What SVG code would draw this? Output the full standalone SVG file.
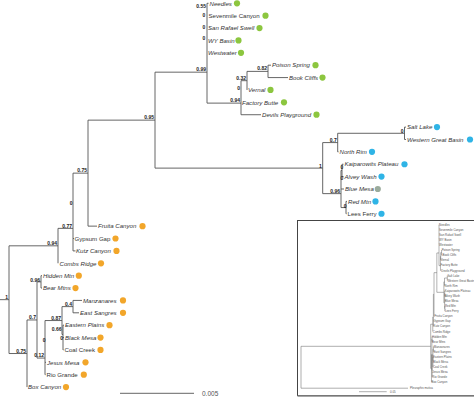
<svg xmlns="http://www.w3.org/2000/svg" xmlns:xlink="http://www.w3.org/1999/xlink" width="474" height="398" viewBox="0 0 474 398">
<style>
.lab{font-family:"Liberation Sans",Arial,sans-serif;font-size:6.1px;font-style:italic;fill:#333}
.up{font-style:normal}
.sup{font-family:"Liberation Sans",Arial,sans-serif;font-size:5px;font-weight:bold;fill:#222;text-anchor:end}
.tiny{font-family:"Liberation Sans",Arial,sans-serif;font-size:2.9px;fill:#555}
.g{fill:#8cc63f}.b{fill:#2fb4e6}.o{fill:#f2a62a}.m{fill:#9aab9c}
.ln{fill:none;stroke:#555;stroke-width:0.9}
.sc{font-family:"Liberation Sans",Arial,sans-serif;font-size:6.5px;fill:#555}
</style>
<defs>
<path id="tree" d="M0 299.67H9M9 245.82V353.52M9 245.82H58M58 228.37V263.28M58 228.37H73M73 173.14V250.9M73 238.52H74M73 250.9H75.5M73 173.14H88M88 120.14V226.14M88 226.14H97M88 120.14H155M155 72.16V168.11M155 72.16H207M207 3.3V103.11M207 3.3H208.5M207 103.11H241M241 80.68V114.72M241 114.72H261M241 80.68H247M247 71.39V89.96M247 71.39H268M268 65.2V77.58M268 65.2H271M268 77.58H288M155 168.11H322.7M322.7 142.58V193.64M322.7 142.58H337.7M337.7 133.29V151.86M337.7 151.86H338.5M337.7 133.29H404.5M404.5 127.1V139.48M404.5 127.1H406M404.5 139.48H406M322.7 193.64H341M341 170.43V207.57M341 170.43H342M342 164.24V176.62M342 164.24H343.5M342 176.62H343.5M341 189H344M341 207.57H346M346 201.38V213.76M346 201.38H347M346 213.76H346.5M9 353.52H27M27 319.96V387.08M27 319.96H37M37 281.85V358.07M37 281.85H41M41 275.66V288.04M41 275.66H42M41 288.04H42M37 358.07H45M45 320.54V374.7M45 362.32H46M45 374.7H45.5M45 320.54H62M62 306.61V334.47M62 306.61H73M73 300.42V312.8M73 300.42H82M73 312.8H79M62 334.47H63M63 325.18V349.94M63 325.18H64M63 337.56H64M63 349.94H63.5" vector-effect="non-scaling-stroke"/>
</defs>

<g id="connectors">
<use xlink:href="#tree" href="#tree" class="ln"/>
<line x1="120" y1="393.3" x2="194" y2="393.3" stroke="#666" stroke-width="1"/>
</g>

<g id="supports">
<text class="sup" x="8" y="299.2">1</text>
<text class="sup" x="57" y="245">0.94</text>
<text class="sup" x="72" y="227.5">0.77</text>
<text class="sup" x="72.5" y="205">0</text>
<text class="sup" x="87" y="172.3">0.75</text>
<text class="sup" x="154" y="119.3">0.95</text>
<text class="sup" x="206" y="71.3">0.99</text>
<text class="sup" x="206" y="8">0.55</text>
<text class="sup" x="205.3" y="17">0</text>
<text class="sup" x="205.3" y="29">0</text>
<text class="sup" x="205.3" y="40">0</text>
<text class="sup" x="240" y="102.3">0.94</text>
<text class="sup" x="240" y="90">0</text>
<text class="sup" x="246" y="79.6">0.32</text>
<text class="sup" x="267" y="70.3">0.82</text>
<text class="sup" x="321.7" y="167.5">1</text>
<text class="sup" x="336.7" y="141.8">0.7</text>
<text class="sup" x="403.5" y="132.6">0</text>
<text class="sup" x="340" y="192.8">0.96</text>
<text class="sup" x="343.2" y="169">0</text>
<text class="sup" x="343.2" y="180">0</text>
<text class="sup" x="346.5" y="207.5">0</text>
<text class="sup" x="26" y="352.8">0.75</text>
<text class="sup" x="36" y="319.2">0.7</text>
<text class="sup" x="40" y="281.8">0.96</text>
<text class="sup" x="44" y="357.3">0.12</text>
<text class="sup" x="45.5" y="341.8">0</text>
<text class="sup" x="61" y="320">0.87</text>
<text class="sup" x="72" y="305.8">0.4</text>
<text class="sup" x="61.5" y="330.8">0.66</text>
<text class="sup" x="63" y="340">0</text>
</g>

<g id="n-needles"><text class="lab" x="209.5" y="5.5">Needles</text><circle class="g" cx="237" cy="3.3" r="3.1"/></g>
<g id="n-sevenmile"><text class="lab up" x="208.5" y="17.9">Sevenmile Canyon</text><circle class="g" cx="265.5" cy="15.68" r="3.1"/></g>
<g id="n-sanrafael"><text class="lab" x="208" y="30.3">San Rafael Swell</text><circle class="g" cx="259.5" cy="28.06" r="3.1"/></g>
<g id="n-wybasin"><text class="lab" x="208" y="42.6">WY Basin</text><circle class="g" cx="238.5" cy="40.44" r="3.1"/></g>
<g id="n-westwater"><text class="lab" x="208" y="55">Westwater</text><circle class="g" cx="241" cy="52.82" r="3.1"/></g>
<g id="n-poison"><text class="lab" x="272" y="67.4">Poison Spring</text><circle class="g" cx="315.5" cy="65.2" r="3.1"/></g>
<g id="n-book"><text class="lab" x="289" y="79.8">Book Cliffs</text><circle class="g" cx="322.5" cy="77.58" r="3.1"/></g>
<g id="n-vernal"><text class="lab" x="248" y="92.2">Vernal</text><circle class="g" cx="270.5" cy="89.96" r="3.1"/></g>
<g id="n-factory"><text class="lab" x="242" y="104.5">Factory Butte</text><circle class="g" cx="284" cy="102.34" r="3.1"/></g>
<g id="n-devils"><text class="lab" x="262" y="116.9">Devils Playground</text><circle class="g" cx="316.5" cy="114.72" r="3.1"/></g>
<g id="n-saltlake"><text class="lab" x="407" y="129.3">Salt Lake</text><circle class="b" cx="437" cy="127.1" r="3.1"/></g>
<g id="n-wgb"><text class="lab" x="407" y="141.7">Western Great Basin</text><circle class="b" cx="470" cy="139.48" r="3.1"/></g>
<g id="n-northrim"><text class="lab" x="339.5" y="154.1">North Rim</text><circle class="b" cx="372" cy="151.86" r="3.1"/></g>
<g id="n-kaiparowits"><text class="lab" x="344.5" y="166.4">Kaiparowits Plateau</text><circle class="b" cx="404.5" cy="164.24" r="3.1"/></g>
<g id="n-alvey"><text class="lab" x="344.5" y="178.8">Alvey Wash</text><circle class="b" cx="381.5" cy="176.62" r="3.1"/></g>
<g id="n-bluemesa"><text class="lab" x="345" y="191.2">Blue Mesa</text><circle class="m" cx="377.8" cy="189" r="3.1"/></g>
<g id="n-redmtn"><text class="lab" x="348" y="203.6">Red Mtn</text><circle class="b" cx="375.5" cy="201.38" r="3.1"/></g>
<g id="n-leesferry"><text class="lab up" x="347.5" y="216">Lees Ferry</text><circle class="b" cx="381.5" cy="213.76" r="3.1"/></g>
<g id="n-fruita"><text class="lab" x="98" y="228.3">Fruita Canyon</text><circle class="o" cx="142.5" cy="226.14" r="3.1"/></g>
<g id="n-gypsum"><text class="lab up" x="74.5" y="240.7">Gypsum Gap</text><circle class="o" cx="115.5" cy="238.52" r="3.1"/></g>
<g id="n-kutz"><text class="lab" x="76" y="253.1">Kutz Canyon</text><circle class="o" cx="116.5" cy="250.9" r="3.1"/></g>
<g id="n-combs"><text class="lab" x="59.5" y="265.5">Combs Ridge</text><circle class="o" cx="101" cy="263.28" r="3.1"/></g>
<g id="n-hidden"><text class="lab" x="43" y="277.9">Hidden Mtn</text><circle class="o" cx="78.8" cy="275.66" r="3.1"/></g>
<g id="n-bear"><text class="lab" x="43" y="290.2">Bear Mtns</text><circle class="o" cx="75.5" cy="288.04" r="3.1"/></g>
<g id="n-manzanares"><text class="lab" x="83" y="302.6">Manzanares</text><circle class="o" cx="123" cy="300.42" r="3.1"/></g>
<g id="n-eastsangres"><text class="lab" x="80" y="315">East Sangres</text><circle class="o" cx="123" cy="312.8" r="3.1"/></g>
<g id="n-easternplains"><text class="lab" x="65" y="327.4">Eastern Plains</text><circle class="o" cx="109.5" cy="325.18" r="3.1"/></g>
<g id="n-blackmesa"><text class="lab" x="65" y="339.8">Black Mesa</text><circle class="o" cx="100.5" cy="337.56" r="3.1"/></g>
<g id="n-coalcreek"><text class="lab up" x="64.5" y="352.1">Coal Creek</text><circle class="o" cx="100.5" cy="349.94" r="3.1"/></g>
<g id="n-jesusmesa"><text class="lab" x="47" y="364.5">Jesus Mesa</text><circle class="o" cx="85.5" cy="362.32" r="3.1"/></g>
<g id="n-riogrande"><text class="lab up" x="46.5" y="376.9">Rio Grande</text><circle class="o" cx="83.8" cy="374.7" r="3.1"/></g>
<g id="n-boxcanyon"><text class="lab" x="28" y="389.3">Box Canyon</text><circle class="o" cx="66" cy="387.08" r="3.1"/></g>

<g id="scalebar"><text class="sc" x="202" y="395.6">0.005</text></g>

<g id="inset">
<rect x="297.5" y="220.5" width="180" height="175" fill="#fff" stroke="#444" stroke-width="1"/>
<line x1="297.5" y1="396" x2="474" y2="396" stroke="#888" stroke-width="1.6"/>
<use xlink:href="#tree" href="#tree" class="ln" style="stroke:#666;stroke-width:0.5" transform="matrix(0.042 0 0 0.4103 430.32 223.35)"/>
<path d="M301 346.3H430.4M301 346.3V388.2H408M359 391.7H386.7" fill="none" stroke="#777" stroke-width="0.6"/>
<text class="tiny" x="410" y="389.3">Pleuraphis mutica</text>
<text class="tiny" x="390" y="392.8">0.05</text>
<text class="tiny" x="439.1" y="225.8">Needles</text>
<text class="tiny" x="439.1" y="230.9">Sevenmile Canyon</text>
<text class="tiny" x="439.1" y="236">San Rafael Swell</text>
<text class="tiny" x="439.1" y="241">WY Basin</text>
<text class="tiny" x="439.1" y="246.1">Westwater</text>
<text class="tiny" x="441.7" y="251.2">Poison Spring</text>
<text class="tiny" x="442.5" y="256.3">Book Cliffs</text>
<text class="tiny" x="440.7" y="261.4">Vernal</text>
<text class="tiny" x="440.5" y="266.4">Factory Butte</text>
<text class="tiny" x="441.3" y="271.5">Devils Playground</text>
<text class="tiny" x="447.4" y="276.6">Salt Lake</text>
<text class="tiny" x="447.4" y="281.7">Western Great Basin</text>
<text class="tiny" x="444.6" y="286.8">North Rim</text>
<text class="tiny" x="444.8" y="291.8">Kaiparowits Plateau</text>
<text class="tiny" x="444.8" y="296.9">Alvey Wash</text>
<text class="tiny" x="444.8" y="302">Blue Mesa</text>
<text class="tiny" x="445" y="307.1">Red Mtn</text>
<text class="tiny" x="444.9" y="312.2">Lees Ferry</text>
<text class="tiny" x="434.4" y="317.2">Fruita Canyon</text>
<text class="tiny" x="433.5" y="322.3">Gypsum Gap</text>
<text class="tiny" x="433.5" y="327.4">Kutz Canyon</text>
<text class="tiny" x="432.8" y="332.5">Combs Ridge</text>
<text class="tiny" x="432.1" y="337.6">Hidden Mtn</text>
<text class="tiny" x="432.1" y="342.6">Bear Mtns</text>
<text class="tiny" x="433.8" y="347.7">Manzanares</text>
<text class="tiny" x="433.7" y="352.8">East Sangres</text>
<text class="tiny" x="433.1" y="357.9">Eastern Plains</text>
<text class="tiny" x="433.1" y="363">Black Mesa</text>
<text class="tiny" x="433" y="368">Coal Creek</text>
<text class="tiny" x="432.3" y="373.1">Jesus Mesa</text>
<text class="tiny" x="432.3" y="378.2">Rio Grande</text>
<text class="tiny" x="431.5" y="383.3">Box Canyon</text>
</g>
</svg>
